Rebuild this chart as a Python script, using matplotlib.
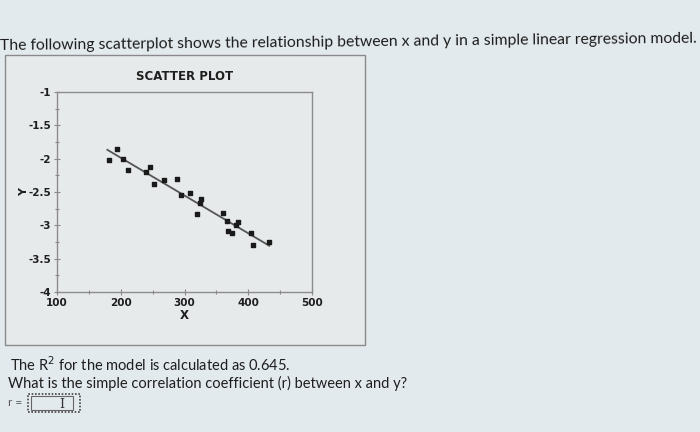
import numpy as np
import matplotlib.pyplot as plt
from matplotlib.patches import Rectangle
from matplotlib.ticker import MultipleLocator

# values
x_vals = [182, 194, 204, 212, 239, 246, 252, 268, 288, 295, 308, 320, 326, 325,
          360, 366, 369, 375, 380, 384, 404, 408, 433]
y_vals = [-2.02, -1.86, -2.00, -2.17, -2.20, -2.13, -2.38, -2.32, -2.30, -2.54,
          -2.52, -2.83, -2.60, -2.66, -2.81, -2.93, -3.08, -3.11, -2.99, -2.95,
          -3.12, -3.29, -3.25]
x_ticks = [100, 200, 300, 400, 500]
y_ticks = [-1, -1.5, -2, -2.5, -3, -3.5, -4]
y_tick_labels = ["-1", "-1.5", "-2", "-2.5", "-3", "-3.5", "-4"]

heading = "The following scatterplot shows the relationship between x and y in a simple linear regression model."
line1 = "The R$^2$ for the model is calculated as 0.645."
line2 = "What is the simple correlation coefficient (r) between x and y?"

BG = "#e3eaee"
TXT = "#1e1e1e"
SANS = ["Lato", "DejaVu Sans"]
NARROW = ["Liberation Sans Narrow", "DejaVu Sans"]

fig = plt.figure(figsize=(7, 4.32), dpi=100, facecolor=BG)

# outer panel holding the chart
fig.patches.append(Rectangle((5 / 700, 1 - 345 / 432), 360 / 700, 290 / 432,
                             transform=fig.transFigure, facecolor="#e7eaeb",
                             edgecolor="#8a8a8a", linewidth=1.0, zorder=-5))

fig.text(0, 1 - 42 / 432, heading, fontsize=11.3, family=SANS,
         color=TXT, ha="left", va="center", rotation=0.6)

ax = fig.add_axes([57 / 700, 1 - 292 / 432, 255 / 700, 200 / 432])
ax.set_facecolor("none")
ax.scatter(x_vals, y_vals, marker="s", s=6, color="#1a1a1a", zorder=3)

# fitted line through the points
slope, icpt = np.polyfit(x_vals, y_vals, 1)
xs = np.array([min(x_vals) - 3, max(x_vals)])
ax.plot(xs, slope * xs + icpt, color="#555555", linewidth=1.3, zorder=2)

ax.set_xlim(100, 500)
ax.set_ylim(-4, -1)
ax.set_xticks(x_ticks)
ax.set_yticks(y_ticks)
ax.set_yticklabels(y_tick_labels)
ax.xaxis.set_minor_locator(MultipleLocator(50))
ax.yaxis.set_minor_locator(MultipleLocator(0.25))
ax.tick_params(which="both", direction="inout", color="#888888", width=0.8)
ax.tick_params(which="major", length=4, labelsize=7.5, pad=2)
ax.tick_params(which="minor", length=3)
for lab in ax.get_xticklabels() + ax.get_yticklabels():
    lab.set_fontweight("bold")
    lab.set_family(NARROW)
    lab.set_color(TXT)
for sp in ax.spines.values():
    sp.set_color("#8c8c8c")
    sp.set_linewidth(1.0)

ax.set_title("SCATTER PLOT", fontsize=8.5, fontweight="bold", family=NARROW,
             color=TXT, pad=9)
ax.set_xlabel("X", fontsize=8.5, fontweight="bold", family=NARROW, color=TXT,
              labelpad=1)
ax.set_ylabel("Y", fontsize=8, fontweight="bold", family=NARROW, color=TXT,
              labelpad=0)

fig.text(10 / 700, 1 - 365 / 432, line1, fontsize=10.5, family=SANS,
         color=TXT, ha="left", va="center")
fig.text(8 / 700, 1 - 383 / 432, line2, fontsize=10.5, family=SANS,
         color=TXT, ha="left", va="center")
fig.text(8 / 700, 1 - 403 / 432, "r =", fontsize=8.5, family=SANS,
         color="#555555", ha="left", va="center")

# answer input box
fig.patches.append(Rectangle((28 / 700, 1 - 412 / 432), 52 / 700, 18 / 432,
                             transform=fig.transFigure, facecolor="none",
                             edgecolor="#444444", linewidth=1.2,
                             linestyle=(0, (1, 1)), zorder=5))
fig.patches.append(Rectangle((31 / 700, 1 - 410 / 432), 42 / 700, 14 / 432,
                             transform=fig.transFigure, facecolor="none",
                             edgecolor="#666666", linewidth=0.8, zorder=5))
fig.text(62 / 700, 1 - 405 / 432, "I", fontsize=9, family=["DejaVu Serif"],
         color="#333333", ha="center", va="center")

fig.savefig("out.png", dpi=100, facecolor=BG)
